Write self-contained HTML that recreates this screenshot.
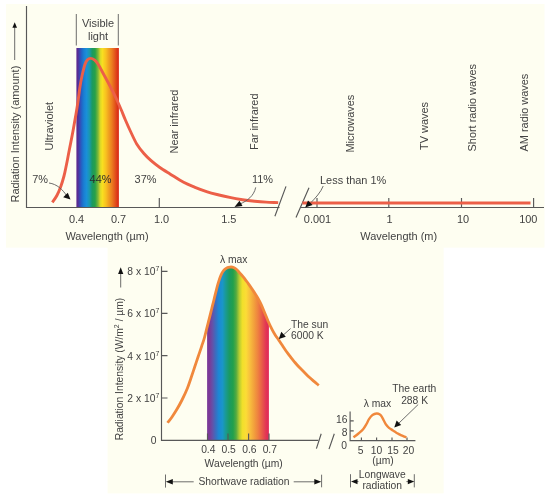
<!DOCTYPE html>
<html><head><meta charset="utf-8">
<style>
html,body{margin:0;padding:0;background:#fff;}
svg{display:block;}
text{font-family:"Liberation Sans",sans-serif;font-size:10.95px;fill:#424242;}
.ax{stroke:#585858;stroke-width:1.15;fill:none;}
.b text{font-size:10.3px;}
.th{stroke:#5c5c5c;stroke-width:0.9;fill:none;}
</style></head><body>
<svg width="550" height="501" viewBox="0 0 550 501">
<defs>
<linearGradient id="sp1" x1="0" x2="1" y1="0" y2="0">
<stop offset="0" stop-color="#5a2a90"/>
<stop offset="0.03" stop-color="#582c94"/>
<stop offset="0.08" stop-color="#3a48b4"/>
<stop offset="0.13" stop-color="#2068c8"/>
<stop offset="0.18" stop-color="#1a80d4"/>
<stop offset="0.24" stop-color="#1a90d8"/>
<stop offset="0.305" stop-color="#1a98b0"/>
<stop offset="0.37" stop-color="#1a9a62"/>
<stop offset="0.44" stop-color="#28a048"/>
<stop offset="0.51" stop-color="#80b838"/>
<stop offset="0.56" stop-color="#d8d828"/>
<stop offset="0.61" stop-color="#f8e020"/>
<stop offset="0.695" stop-color="#f8c020"/>
<stop offset="0.76" stop-color="#f0a020"/>
<stop offset="0.83" stop-color="#ec8020"/>
<stop offset="0.9" stop-color="#e45a1c"/>
<stop offset="0.966" stop-color="#dc3418"/>
<stop offset="1" stop-color="#d82c18"/>
</linearGradient>
<linearGradient id="sp2" x1="0" x2="1" y1="0" y2="0">
<stop offset="0" stop-color="#7a3a98"/>
<stop offset="0.04" stop-color="#7a3a98"/>
<stop offset="0.09" stop-color="#6253aa"/>
<stop offset="0.14" stop-color="#3a6ec0"/>
<stop offset="0.19" stop-color="#1c88d6"/>
<stop offset="0.25" stop-color="#1a96c8"/>
<stop offset="0.3" stop-color="#1a9a94"/>
<stop offset="0.36" stop-color="#1a9a62"/>
<stop offset="0.42" stop-color="#22a04c"/>
<stop offset="0.47" stop-color="#55aa40"/>
<stop offset="0.52" stop-color="#b4cc32"/>
<stop offset="0.57" stop-color="#f0e02a"/>
<stop offset="0.63" stop-color="#fcdc36"/>
<stop offset="0.69" stop-color="#f8c03e"/>
<stop offset="0.76" stop-color="#f2a03c"/>
<stop offset="0.825" stop-color="#ee8040"/>
<stop offset="0.89" stop-color="#e85a48"/>
<stop offset="0.955" stop-color="#e23455"/>
<stop offset="1" stop-color="#e02858"/>
</linearGradient>
<clipPath id="c2"><path d="M167.5,422.8 C168.2,421.8 170.5,419.2 172.0,417.0 C173.5,414.8 174.9,412.6 176.6,409.8 C178.3,407.0 180.2,403.6 182.0,400.0 C183.8,396.4 185.9,391.9 187.4,388.2 C188.9,384.5 189.8,381.5 191.0,378.0 C192.2,374.5 193.4,370.8 194.6,367.2 C195.8,363.6 197.0,360.1 198.2,356.5 C199.4,352.9 200.8,349.0 201.8,345.8 C202.9,342.6 203.7,340.5 204.5,337.5 C205.3,334.5 206.2,330.8 206.9,327.8 C207.7,324.8 208.3,322.3 209.0,319.6 C209.7,316.9 210.3,314.3 211.0,311.6 C211.7,308.9 212.3,306.2 213.0,303.6 C213.7,301.0 214.3,298.2 214.9,295.9 C215.5,293.6 215.9,291.8 216.4,289.9 C216.9,287.9 217.4,285.9 217.9,284.2 C218.4,282.4 218.9,280.9 219.4,279.4 C219.9,277.9 220.3,276.6 220.9,275.3 C221.5,274.0 222.1,272.8 222.8,271.8 C223.5,270.8 224.2,270.0 224.9,269.3 C225.6,268.6 226.4,268.2 227.2,267.8 C228.0,267.4 228.9,267.2 229.8,267.1 C230.7,267.0 231.5,266.9 232.4,267.2 C233.3,267.5 234.5,268.0 235.5,268.7 C236.5,269.4 237.5,270.4 238.5,271.5 C239.5,272.6 240.5,273.8 241.6,275.0 C242.7,276.2 243.7,277.5 244.8,278.9 C245.9,280.3 247.1,282.0 248.3,283.6 C249.5,285.2 250.8,287.1 251.9,288.7 C253.0,290.3 253.9,291.8 255.0,293.5 C256.1,295.2 257.2,296.9 258.2,298.7 C259.2,300.5 260.1,302.3 261.0,304.2 C261.9,306.1 262.8,308.3 263.6,310.3 C264.4,312.3 265.2,314.2 266.0,316.0 C266.8,317.8 267.4,319.4 268.1,321.1 C268.9,322.8 269.7,324.7 270.5,326.3 C271.3,327.9 272.0,329.3 272.8,330.8 C273.6,332.3 274.5,333.8 275.5,335.4 C276.5,337.0 277.8,338.6 279.0,340.5 C280.2,342.4 281.7,344.5 283.0,346.5 C284.3,348.5 285.7,350.4 287.0,352.3 C288.3,354.2 289.7,355.9 291.0,357.6 C292.3,359.3 293.7,360.9 295.0,362.5 C296.3,364.1 297.5,365.4 299.0,367.0 C300.5,368.6 302.3,370.3 304.0,372.0 C305.7,373.7 307.3,375.4 309.0,377.0 C310.7,378.6 312.4,380.0 314.0,381.4 C315.6,382.8 318.0,384.7 318.8,385.4 L318.8,440 L167.5,440 Z"/></clipPath>
</defs>
<!-- backgrounds -->
<rect x="6" y="4" width="538.5" height="243.6" fill="#fefef1"/>
<rect x="107.6" y="247" width="336" height="246.4" fill="#fefef1"/>

<!-- ===== TOP CHART ===== -->
<rect x="76.4" y="48" width="42.5" height="159.5" fill="url(#sp1)"/>
<path class="ax" d="M26.5,6 V207.5 H279.5"/>
<path class="ax" d="M301,207.5 H544"/>
<path class="ax" d="M286,186.4 L274.9,216.3 M309,187.8 L296,217.5"/>
<path class="th" d="M76.3,14 V45.5 M118.3,14 V45.5"/>
<path class="ax" d="M159.3,198 V207.5 M317,198 V207.5 M388.8,198 V207.5 M461.5,198 V207.5 M533.6,198 V207.5"/>
<!-- red curve -->
<path d="M52.3,202.3 C53.1,201.2 55.5,198.2 56.9,195.5 C58.3,192.8 59.6,189.7 60.8,186.4 C62.0,183.2 63.0,179.7 64.0,176.0 C65.0,172.3 65.7,168.3 66.6,164.0 C67.5,159.7 68.2,155.5 69.3,150.0 C70.4,144.5 71.9,137.0 73.0,131.0 C74.1,125.0 75.1,119.2 76.0,114.0 C76.9,108.8 77.6,104.3 78.2,100.0 C78.8,95.7 79.2,92.0 79.8,88.0 C80.4,84.0 81.1,80.0 82.0,76.0 C82.9,72.0 84.1,67.0 85.0,64.3 C85.9,61.6 86.6,60.8 87.5,59.8 C88.4,58.8 89.5,58.4 90.6,58.4 C91.7,58.4 93.1,58.8 94.3,59.8 C95.5,60.8 96.3,61.4 98.0,64.1 C99.7,66.8 102.4,72.0 104.6,76.0 C106.8,80.0 109.0,84.0 111.0,88.0 C113.0,92.0 115.2,96.3 116.9,100.0 C118.6,103.7 119.9,106.7 121.3,110.0 C122.7,113.3 123.8,116.3 125.4,120.0 C127.0,123.7 128.9,128.0 130.8,132.0 C132.7,136.0 134.5,140.3 136.7,143.9 C138.9,147.5 141.5,150.7 143.9,153.5 C146.3,156.3 148.5,158.4 151.1,160.7 C153.7,163.0 156.3,165.0 159.5,167.2 C162.7,169.4 166.0,171.4 170.0,173.9 C174.0,176.4 179.4,180.1 183.6,182.3 C187.8,184.5 191.1,185.7 195.0,187.3 C198.9,188.9 203.3,190.5 207.3,191.8 C211.3,193.1 215.1,194.0 219.0,195.0 C222.9,196.0 227.0,196.9 230.9,197.7 C234.8,198.5 238.6,199.1 242.5,199.7 C246.4,200.3 250.7,200.8 254.6,201.2 C258.5,201.6 262.1,201.9 266.0,202.1 C269.9,202.3 276.2,202.5 278.2,202.6" fill="none" stroke="#ec5f48" stroke-width="2.9" stroke-linecap="butt"/>
<path d="M302.4,203 H530.5" stroke="#ec5f48" stroke-width="3.1" fill="none"/>
<!-- y label -->
<text transform="translate(19,202.5) rotate(-90)">Radiation Intensity (amount)</text>
<path class="th" d="M14.7,60 V26"/>
<path d="M14.7,22.3 L17,27.8 L12.4,27.8 Z" fill="#111"/>
<!-- labels -->
<text x="98" y="27" text-anchor="middle">Visible</text>
<text x="98" y="39.5" text-anchor="middle">light</text>
<text transform="translate(53,150.5) rotate(-90)">Ultraviolet</text>
<text transform="translate(178,153.5) rotate(-90)">Near infrared</text>
<text transform="translate(258,150) rotate(-90)">Far infrared</text>
<text transform="translate(354,152.5) rotate(-90)">Microwaves</text>
<text transform="translate(427.5,150) rotate(-90)">TV waves</text>
<text transform="translate(475.5,151.5) rotate(-90)">Short radio waves</text>
<text transform="translate(527.5,151.5) rotate(-90)">AM radio waves</text>
<text x="40.2" y="183" text-anchor="middle">7%</text>
<text x="100.5" y="183" text-anchor="middle" style="fill:#2c2c2c">44%</text>
<text x="145.5" y="183" text-anchor="middle">37%</text>
<text x="262.5" y="182.5" text-anchor="middle">11%</text>
<text x="320" y="183.5">Less than 1%</text>
<text x="76.5" y="223" text-anchor="middle">0.4</text>
<text x="118.5" y="223" text-anchor="middle">0.7</text>
<text x="161.5" y="223" text-anchor="middle">1.0</text>
<text x="228.8" y="223" text-anchor="middle">1.5</text>
<text x="317.5" y="222.5" text-anchor="middle">0.001</text>
<text x="389.5" y="222.5" text-anchor="middle">1</text>
<text x="463" y="222.5" text-anchor="middle">10</text>
<text x="528.3" y="222.5" text-anchor="middle">100</text>
<text x="107" y="240" text-anchor="middle">Wavelength (µm)</text>
<text x="398.7" y="240" text-anchor="middle">Wavelength (m)</text>
<!-- arrows top -->
<path class="th" d="M49,183 C57,184 63,190 66.5,195.5"/>
<path d="M70.5,199.5 L63.2,197.2 L67.8,192.8 Z" fill="#111"/>
<path class="th" d="M255.7,187.4 C254,196 247,201 240,204"/>
<path d="M234.5,207 L239.5,200.8 L242.5,206 Z" fill="#111"/>
<path class="th" d="M323.2,186 C321,192 315,198.5 311,202.5"/>
<path d="M305.2,207.6 L308,200.6 L312.6,205 Z" fill="#111"/>

<!-- ===== BOTTOM CHART ===== -->
<g class="b">
<rect x="207.1" y="260" width="61.8" height="180" fill="url(#sp2)" clip-path="url(#c2)"/>
<path class="ax" d="M161.5,266.3 V440.3 H318.3"/>
<path class="ax" d="M161.5,271.3 H167.5 M161.5,313.4 H167.5 M161.5,355.6 H167.5 M161.5,398 H167.5"/>
<path class="ax" d="M207.5,433.5 V440 M228,433.5 V440 M248.6,433.5 V440 M269,433.5 V440"/>
<path class="ax" d="M321.2,433.7 L316.4,448.6 M334.3,433.7 L329,449.1"/>
<!-- orange curve -->
<path d="M167.5,422.8 C168.2,421.8 170.5,419.2 172.0,417.0 C173.5,414.8 174.9,412.6 176.6,409.8 C178.3,407.0 180.2,403.6 182.0,400.0 C183.8,396.4 185.9,391.9 187.4,388.2 C188.9,384.5 189.8,381.5 191.0,378.0 C192.2,374.5 193.4,370.8 194.6,367.2 C195.8,363.6 197.0,360.1 198.2,356.5 C199.4,352.9 200.8,349.0 201.8,345.8 C202.9,342.6 203.7,340.5 204.5,337.5 C205.3,334.5 206.2,330.8 206.9,327.8 C207.7,324.8 208.3,322.3 209.0,319.6 C209.7,316.9 210.3,314.3 211.0,311.6 C211.7,308.9 212.3,306.2 213.0,303.6 C213.7,301.0 214.3,298.2 214.9,295.9 C215.5,293.6 215.9,291.8 216.4,289.9 C216.9,287.9 217.4,285.9 217.9,284.2 C218.4,282.4 218.9,280.9 219.4,279.4 C219.9,277.9 220.3,276.6 220.9,275.3 C221.5,274.0 222.1,272.8 222.8,271.8 C223.5,270.8 224.2,270.0 224.9,269.3 C225.6,268.6 226.4,268.2 227.2,267.8 C228.0,267.4 228.9,267.2 229.8,267.1 C230.7,267.0 231.5,266.9 232.4,267.2 C233.3,267.5 234.5,268.0 235.5,268.7 C236.5,269.4 237.5,270.4 238.5,271.5 C239.5,272.6 240.5,273.8 241.6,275.0 C242.7,276.2 243.7,277.5 244.8,278.9 C245.9,280.3 247.1,282.0 248.3,283.6 C249.5,285.2 250.8,287.1 251.9,288.7 C253.0,290.3 253.9,291.8 255.0,293.5 C256.1,295.2 257.2,296.9 258.2,298.7 C259.2,300.5 260.1,302.3 261.0,304.2 C261.9,306.1 262.8,308.3 263.6,310.3 C264.4,312.3 265.2,314.2 266.0,316.0 C266.8,317.8 267.4,319.4 268.1,321.1 C268.9,322.8 269.7,324.7 270.5,326.3 C271.3,327.9 272.0,329.3 272.8,330.8 C273.6,332.3 274.5,333.8 275.5,335.4 C276.5,337.0 277.8,338.6 279.0,340.5 C280.2,342.4 281.7,344.5 283.0,346.5 C284.3,348.5 285.7,350.4 287.0,352.3 C288.3,354.2 289.7,355.9 291.0,357.6 C292.3,359.3 293.7,360.9 295.0,362.5 C296.3,364.1 297.5,365.4 299.0,367.0 C300.5,368.6 302.3,370.3 304.0,372.0 C305.7,373.7 307.3,375.4 309.0,377.0 C310.7,378.6 312.4,380.0 314.0,381.4 C315.6,382.8 318.0,384.7 318.8,385.4" fill="none" stroke="#f0883c" stroke-width="2.8"/>
<!-- y labels -->
<text x="159.3" y="275.2" text-anchor="end">8 x 10<tspan dy="-4" font-size="7">7</tspan></text>
<text x="159.3" y="317.3" text-anchor="end">6 x 10<tspan dy="-4" font-size="7">7</tspan></text>
<text x="159.3" y="359.5" text-anchor="end">4 x 10<tspan dy="-4" font-size="7">7</tspan></text>
<text x="159.3" y="402" text-anchor="end">2 x 10<tspan dy="-4" font-size="7">7</tspan></text>
<text x="153.6" y="443.5" text-anchor="middle">0</text>
<text transform="translate(122.7,440.3) rotate(-90)">Radiation Intensity (W/m<tspan dy="-3.5" font-size="7">2</tspan><tspan dy="3.5"> / µm)</tspan></text>
<path class="th" d="M120.7,287.5 V272"/>
<path d="M120.7,267.2 L123.3,274 L118.1,274 Z" fill="#111"/>
<text x="208.3" y="452.5" text-anchor="middle">0.4</text>
<text x="228.7" y="452.5" text-anchor="middle">0.5</text>
<text x="249.4" y="452.5" text-anchor="middle">0.6</text>
<text x="269.8" y="452.5" text-anchor="middle">0.7</text>
<text x="243.7" y="467" text-anchor="middle">Wavelength (µm)</text>
<text x="244" y="485" text-anchor="middle">Shortwave radiation</text>
<path class="th" d="M165.5,474.5 V487.6 M172,481.8 H193.7 M293.7,481.8 H315 M321.6,474.7 V487.3"/>
<path d="M165.8,481.8 L172.8,479 L172.8,484.6 Z" fill="#111"/>
<path d="M321.3,481.8 L314.3,479 L314.3,484.6 Z" fill="#111"/>
<text x="233.7" y="262.6" text-anchor="middle">λ max</text>
<text x="291" y="327.5">The sun</text>
<text x="291" y="339">6000 K</text>
<path class="th" d="M290.6,328.5 L283,335.3"/>
<path d="M278.8,339 L281.3,331.8 L285.8,336.7 Z" fill="#111"/>

<!-- longwave -->
<path class="ax" d="M350.1,411.4 V440.6 H415.4"/>
<path class="ax" d="M350.1,420.8 H353.7 M350.1,430.8 H353.7 M361.4,437.4 V440.6 M376.6,437.4 V440.6 M392,437.4 V440.6 M407,437.4 V440.6"/>
<path d="M353.5,437.4 C354.3,436.8 356.9,434.9 358.5,433.5 C360.1,432.1 362.0,430.6 363.3,429.0 C364.6,427.4 365.6,425.6 366.5,424.0 C367.4,422.4 368.0,420.6 369.0,419.1 C370.0,417.6 371.2,415.9 372.5,415.0 C373.8,414.1 375.4,413.6 376.6,413.5 C377.8,413.4 378.7,413.7 379.5,414.2 C380.3,414.7 380.9,415.2 381.6,416.3 C382.3,417.4 383.1,419.2 383.8,420.5 C384.5,421.8 384.9,423.0 385.8,424.2 C386.7,425.4 387.8,426.8 389.0,427.8 C390.2,428.8 391.7,429.6 392.9,430.4 C394.1,431.2 395.1,432.0 396.3,432.7 C397.5,433.4 398.8,434.0 399.9,434.6 C401.0,435.2 402.1,435.6 403.2,436.1 C404.3,436.6 405.9,437.2 406.4,437.4" fill="none" stroke="#f0883c" stroke-width="2.4"/>
<text x="347.4" y="423" text-anchor="end">16</text>
<text x="347.4" y="435.6" text-anchor="end">8</text>
<text x="344.2" y="448.7" text-anchor="middle">0</text>
<text x="360.5" y="453.7" text-anchor="middle">5</text>
<text x="376.6" y="453.7" text-anchor="middle">10</text>
<text x="392.9" y="453.7" text-anchor="middle">15</text>
<text x="408.5" y="453.7" text-anchor="middle">20</text>
<text x="383" y="464" text-anchor="middle">(µm)</text>
<text x="382.2" y="478.2" text-anchor="middle">Longwave</text>
<text x="382.2" y="489" text-anchor="middle">radiation</text>
<text x="377.4" y="407.3" text-anchor="middle">λ max</text>
<text x="414.3" y="392.4" text-anchor="middle">The earth</text>
<text x="414.6" y="403.6" text-anchor="middle">288 K</text>
<path class="th" d="M418.2,404.5 L398,424"/>
<path d="M394.3,427.5 L396.6,420.4 L401.2,425.1 Z" fill="#111"/>
<path class="th" d="M350.5,474.2 V487.4 M414.3,474.2 V487.4 M356,481.6 H358.5 M406.4,481.6 H409"/>
<path d="M351,481.6 L357.5,479 L357.5,484.2 Z" fill="#111"/>
<path d="M414.3,481.6 L407.8,479 L407.8,484.2 Z" fill="#111"/>
</g>
</svg>
</body></html>
